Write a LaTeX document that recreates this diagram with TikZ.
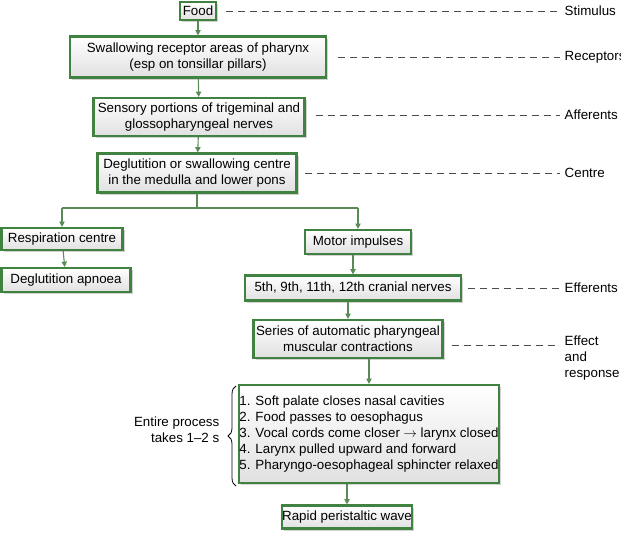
\documentclass[tikz,border=0pt]{standalone}
\usepackage{fontspec}
\setmainfont{Liberation Sans}
\usetikzlibrary{arrows.meta,decorations.pathreplacing,shadows}
\begin{document}
\begin{tikzpicture}[x=0.75pt,y=-0.75pt,
  font=\fontsize{10}{12}\selectfont,
  box/.style={draw=green!35!black!75,line width=1.6pt,top color=white,bottom color=black!12,
    inner sep=0pt,align=center,drop shadow={opacity=0.35,shadow xshift=1.5pt,shadow yshift=-1.5pt}},
  arr/.style={draw=green!30!black!65,line width=0.8pt,-{Triangle[length=4pt,width=4pt]}},
  ln/.style={draw=green!30!black!65,line width=0.8pt},
  dl/.style={draw=black!70,dash pattern=on 5pt off 4pt,line width=0.5pt},
  lab/.style={anchor=west,align=left}]
\useasboundingbox (0,0) rectangle (621,532);
\node[box,minimum width=27pt,minimum height=13.5pt] (food) at (198,11) {Food};
\node[box,minimum width=192pt,minimum height=30.75pt] (rec) at (198,57) {Swallowing receptor areas of pharynx\\(esp on tonsillar pillars)};
\node[box,minimum width=158.25pt,minimum height=28.5pt] (sen) at (199,117) {Sensory portions of trigeminal and\\glossopharyngeal nerves};
\node[box,minimum width=149.25pt,minimum height=29.25pt] (cen) at (197,173) {Deglutition or swallowing centre\\in the medulla and lower pons};
\node[box,minimum width=90.75pt,minimum height=16.5pt] (resp) at (62,239) {Respiration centre};
\node[box,minimum width=96.75pt,minimum height=18pt] (apn) at (66,280) {Deglutition apnoea};
\node[box,minimum width=79.5pt,minimum height=18pt] (mot) at (358,242) {Motor impulses};
\node[box,minimum width=162pt,minimum height=18.75pt] (eff) at (353,288) {5th, 9th, 11th, 12th cranial nerves};
\node[box,minimum width=141.75pt,minimum height=28.5pt] (ser) at (348,339) {Series of automatic pharyngeal\\muscular contractions};
\node[box,minimum width=191.25pt,minimum height=73.5pt,align=left] (lst) at (369,434) {1. Soft palate closes nasal cavities\\2. Food passes to oesophagus\\3. Vocal cords come closer $\rightarrow$ larynx closed\\4. Larynx pulled upward and forward\\5. Pharyngo-oesophageal sphincter relaxed};
\node[box,minimum width=93.75pt,minimum height=17.25pt] (rap) at (347,517) {Rapid peristaltic wave};
\draw[arr] (food) -- (rec);
\draw[arr] (rec) -- (sen);
\draw[arr] (sen) -- (cen);
\coordinate (j) at (197,208);
\draw[ln] (cen) -- (j);
\draw[ln] (62,208) -- (358,208);
\draw[arr] (62,208) -- (resp);
\draw[arr] (358,208) -- (mot);
\draw[arr] (resp) -- (apn);
\draw[arr] (mot.south -| eff) -- (eff);
\draw[arr] (eff.south -| ser) -- (ser);
\draw[arr] (ser.south -| lst) -- (lst);
\draw[arr] (lst.south -| rap) -- (rap);
\draw[decorate,decoration={brace,amplitude=6pt},line width=0.6pt] (236,486) -- (236,386);
\node[anchor=east,align=right] (ep) at (224,430) {Entire process\\takes 1–2 s};
\node[lab] (s1) at (560,11) {Stimulus};
\node[lab] (s2) at (560,57) {Receptors};
\node[lab] (s3) at (560,115) {Afferents};
\node[lab] (s4) at (560,173) {Centre};
\node[lab] (s5) at (560,288) {Efferents};
\node[lab] (s6) at (560,358) {Effect\\and\\response};
\draw[dl] (226,11) -- (s1.west);
\draw[dl] (338,57) -- (s2.west);
\draw[dl] (316,115) -- (s3.west);
\draw[dl] (305,173) -- (s4.west);
\draw[dl] (468,288) -- (s5.west);
\draw[dl] (452,345) -- (557,345);
\end{tikzpicture}
\end{document}
